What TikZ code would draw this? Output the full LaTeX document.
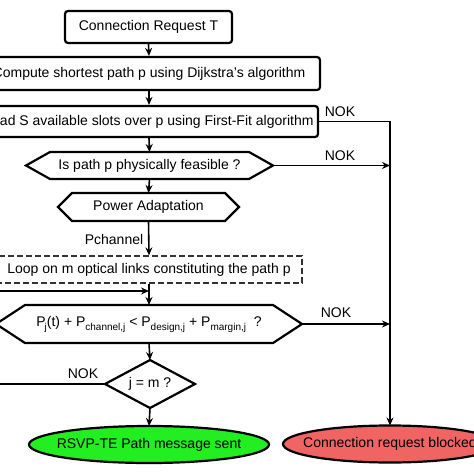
\documentclass[tikz,border=0pt]{standalone}
\usepackage{fontspec}
\setmainfont{Liberation Sans}
\usetikzlibrary{shapes.geometric,calc,arrows.meta}
\definecolor{okgreen}{HTML}{22EE22}
\definecolor{nokred}{HTML}{F06464}
\newcommand\subx[1]{\raisebox{-4pt}{\fontsize{10}{10}\selectfont #1}}
\begin{document}
\begin{tikzpicture}[x=1pt,y=-1pt,
  font=\fontsize{14}{16}\selectfont,
  shapeline/.style={line width=2.2pt},
  rbox/.style={draw,shapeline,rounded corners=3pt,inner sep=0pt},
  plain/.style={inner sep=0pt,outer sep=0pt},
  conn/.style={line width=1.6pt,-{Stealth[length=8pt,width=7pt]}},
  lbl/.style={inner sep=0pt,anchor=base}]
\useasboundingbox (0,0) rectangle (474,474);
\clip (0,0) rectangle (474,474);

% boxes
\node[rbox,minimum width=167pt,minimum height=32pt] (req) at (148.5,27) {Connection Request T};
\node[rbox,minimum width=342pt,minimum height=33pt] (comp) at (149,73.5) {Compute shortest path p using Dijkstra's algorithm};
\node[rbox,minimum width=338pt,minimum height=31pt] (load) at (149,121.5) {Load S available slots over p using First-Fit algorithm};

% hexagon 1
\node[plain,minimum width=247pt,minimum height=27pt] (hexa) at (149.5,165.5) {Is path p physically feasible ?};
\draw[shapeline,line join=miter] ($(hexa.north west)+(24,0)$) -- ($(hexa.north east)+(-24,0)$) -- (hexa.east) -- ($(hexa.south east)+(-24,0)$) -- ($(hexa.south west)+(24,0)$) -- (hexa.west) -- cycle;

% power adaptation
\node[plain,minimum width=181pt,minimum height=28pt] (pa) at (148.5,207) {Power Adaptation};
\draw[shapeline,line join=miter] ($(pa.north west)+(14,0)$) -- ($(pa.north east)+(-14,0)$) -- (pa.east) -- ($(pa.south east)+(-14,0)$) -- ($(pa.south west)+(14,0)$) -- (pa.west) -- cycle;

% loop box
\node[draw,line width=1.3pt,dash pattern=on 6pt off 3pt,draw=black!80,inner sep=0pt,minimum width=306pt,minimum height=27pt] (loop) at (149,269.5) {Loop on m optical links constituting the path p};

% hexagon 3
\node[plain,minimum width=306pt,minimum height=38pt] (hexc) at (149,324) {P\kern-1pt\subx{j}(t) + P\subx{channel,j} < P\subx{design,j} + P\subx{margin,j}\ \ ?};
\draw[shapeline,line join=miter] ($(hexc.north west)+(29,0)$) -- ($(hexc.north east)+(-29,0)$) -- (hexc.east) -- ($(hexc.south east)+(-29,0)$) -- ($(hexc.south west)+(29,0)$) -- (hexc.west) -- cycle;

% diamond
\node[plain,minimum width=90pt,minimum height=48pt] (dia) at (150,384) {j = m ?};
\draw[shapeline,line join=miter] (dia.north) -- (dia.east) -- (dia.south) -- (dia.west) -- cycle;

% ellipses
\fill[okgreen] (149,444.5) ellipse [x radius=120, y radius=18.5];
\draw[shapeline] (149,444.5) ellipse [x radius=120, y radius=18.5];
\node[plain,minimum width=240pt,minimum height=37pt] (sent) at (149,444.5) {RSVP-TE Path message sent};
\fill[nokred] (390,444) ellipse [x radius=107, y radius=18.5];
\draw[shapeline] (390,444) ellipse [x radius=107, y radius=18.5];
\node[plain,minimum width=214pt,minimum height=37pt] (blk) at (390,444) {Connection request blocked};

% coordinates
\coordinate (rail) at (390,121.5);
\coordinate (back) at (-15,384);
\coordinate (merge) at (149,291);

% connectors
\draw[conn] (req.south) -- (comp.north);
\draw[conn] (comp.south) -- (load.north);
\draw[conn] (load.south) -- (hexa.north);
\draw[conn] (load.east) -- (rail) -- (blk.north);
\draw[conn] (hexa.east) -- (hexa.east -| rail);
\draw[conn] (hexa.south) -- (pa.north);
\draw[conn] (pa.south) -- (loop.north);
\draw[conn] (loop.south) -- (hexc.north);
\draw[conn] (hexc.east) -- (hexc.east -| rail);
\draw[conn] (hexc.south) -- (dia.north);
\draw[conn] (dia.south) -- (sent.north);
\draw[conn] (dia.west) -- (back) |- (merge);

% labels
\node[lbl] (nok1) at (340,116) {NOK};
\node[lbl] (nok2) at (340,160) {NOK};
\node[lbl] (nok3) at (336,317) {NOK};
\node[lbl] (nok4) at (83,378) {NOK};
\node[lbl] (pch) at (114,244) {Pchannel};
\end{tikzpicture}
\end{document}
